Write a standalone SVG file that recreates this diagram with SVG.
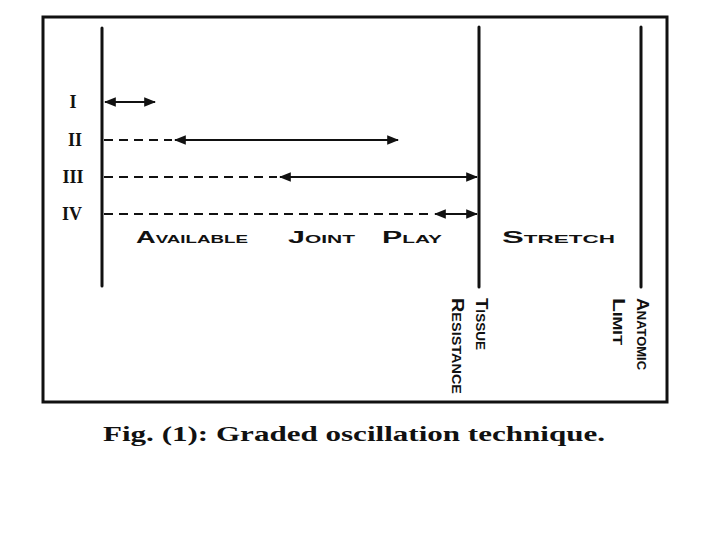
<svg xmlns="http://www.w3.org/2000/svg" width="720" height="540" viewBox="0 0 720 540">
<style>
.frame{fill:none;stroke:#111;stroke-width:3}
.vline{stroke:#111;stroke-width:3;stroke-linecap:round}
.dash{stroke:#111;stroke-width:1.8;stroke-dasharray:9,6}
.arr{stroke:#111;stroke-width:2;marker-start:url(#head);marker-end:url(#head)}
.num{font-family:"Liberation Serif",serif;font-weight:bold;font-size:18px;fill:#111;text-anchor:middle}
.lbl{font-family:"Liberation Sans",sans-serif;font-weight:bold;font-size:16px;font-variant:small-caps;fill:#111}
.rot{font-family:"Liberation Sans",sans-serif;font-weight:bold;font-size:16.5px;font-variant:small-caps;fill:#111}
.cap{font-family:"Liberation Serif",serif;font-weight:bold;font-size:21px;fill:#111}
</style>
<defs>
<marker id="head" viewBox="0 0 10 8" refX="9" refY="4" markerWidth="6" markerHeight="5" orient="auto-start-reverse" markerUnits="strokeWidth">
<path d="M0,0 L10,4 L0,8 Z" fill="#111"/>
</marker>
</defs>
<rect width="720" height="540" fill="#fff"/>
<rect class="frame" x="43" y="17" width="624" height="385"/>
<g id="axis-lines">
<line id="start-line" class="vline" x1="102" y1="28" x2="102" y2="286"/>
<line id="tissue-line" class="vline" x1="479" y1="27" x2="479" y2="287"/>
<line id="anatomic-line" class="vline" x1="641" y1="27" x2="641" y2="287"/>
</g>
<g id="grade-I">
<text class="num" x="73" y="108">I</text>
</g>
<g id="grade-II">
<text class="num" x="75" y="146">II</text>
</g>
<g id="grade-III">
<text class="num" x="73" y="183">III</text>
</g>
<g id="grade-IV">
<text class="num" x="72" y="220">IV</text>
</g>
<g id="connectors">
<line class="arr" x1="105" y1="102" x2="155" y2="102"/>
<line class="dash" x1="104" y1="140" x2="172" y2="140"/>
<line class="arr" x1="175" y1="140" x2="398" y2="140"/>
<line class="dash" x1="104" y1="177" x2="277" y2="177"/>
<line class="arr" x1="280" y1="177" x2="477" y2="177"/>
<line class="dash" x1="104" y1="214" x2="432" y2="214"/>
<line class="arr" x1="435" y1="214" x2="477" y2="214"/>
</g>
<g id="range-labels">
<text class="lbl" x="136" y="243" textLength="112" lengthAdjust="spacingAndGlyphs">Available</text>
<text class="lbl" x="288" y="243" textLength="67" lengthAdjust="spacingAndGlyphs">Joint</text>
<text class="lbl" x="382" y="243" textLength="60" lengthAdjust="spacingAndGlyphs">Play</text>
<text class="lbl" x="502" y="243" textLength="113" lengthAdjust="spacingAndGlyphs">Stretch</text>
</g>
<g id="tissue-resistance">
<text class="rot" transform="translate(476,298) rotate(90)" textLength="52" lengthAdjust="spacingAndGlyphs">Tissue</text>
<text class="rot" transform="translate(452,298) rotate(90)" textLength="96" lengthAdjust="spacingAndGlyphs">Resistance</text>
</g>
<g id="anatomic-limit">
<text class="rot" transform="translate(637,298) rotate(90)" textLength="72" lengthAdjust="spacingAndGlyphs">Anatomic</text>
<text class="rot" transform="translate(613,298) rotate(90)" textLength="47" lengthAdjust="spacingAndGlyphs">Limit</text>
</g>
<text class="cap" x="103" y="441" textLength="502" lengthAdjust="spacingAndGlyphs">Fig. (1): Graded oscillation technique.</text>
</svg>
